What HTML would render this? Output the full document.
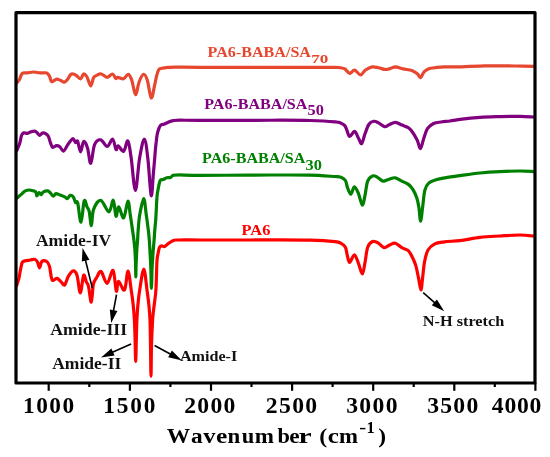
<!DOCTYPE html>
<html><head><meta charset="utf-8"><style>
html,body{margin:0;padding:0;background:#fff;}
body{width:550px;height:457px;overflow:hidden;}
svg{display:block;}
text{font-family:"Liberation Serif","Times New Roman",serif;font-weight:bold;}
</style></head><body>
<svg width="550" height="457" viewBox="0 0 550 457">
<rect width="550" height="457" fill="#fff"/>
<g fill="none" stroke-width="3.2" stroke-linejoin="round" stroke-linecap="round">
<path d="M16.5 83.3C17.0 82.7 18.6 81.1 19.5 79.5C20.4 77.9 20.9 74.6 22.2 73.5C23.5 72.4 25.2 73.2 27.1 72.9C29.0 72.7 31.4 72.0 33.6 72.0C35.8 72.0 38.0 72.8 40.2 72.9C42.4 73.1 45.2 72.4 46.7 72.9C48.2 73.5 48.7 74.8 49.5 76.2C50.3 77.7 50.7 81.0 51.6 81.6C52.5 82.2 54.0 80.4 54.9 80.0C55.8 79.6 56.1 79.1 57.1 79.2C58.1 79.3 59.7 80.0 60.9 80.5C62.1 81.0 63.1 82.4 64.2 82.2C65.3 82.0 66.4 80.8 67.5 79.5C68.6 78.2 69.7 75.4 70.7 74.5C71.7 73.6 72.3 73.8 73.3 74.0C74.3 74.2 75.3 74.8 76.5 75.6C77.7 76.4 79.4 79.2 80.6 78.9C81.8 78.6 82.5 74.4 83.6 74.0C84.6 73.6 85.7 74.7 86.9 76.7C88.1 78.7 89.6 85.8 90.7 86.0C91.8 86.2 92.6 79.5 93.5 77.8C94.4 76.1 94.9 76.2 96.2 75.6C97.5 75.0 99.3 73.7 101.1 74.0C102.9 74.3 105.2 77.3 107.1 77.3C109.0 77.3 111.0 73.8 112.5 74.0C114.0 74.2 114.9 77.9 115.8 78.4C116.7 79.0 116.7 77.2 118.0 77.3C119.3 77.4 121.9 79.3 123.6 78.8C125.3 78.3 126.8 74.1 128.2 74.3C129.6 74.5 130.6 76.8 131.8 80.2C133.0 83.6 134.3 94.3 135.5 94.6C136.7 94.9 137.8 85.4 139.1 82.0C140.4 78.6 142.2 74.6 143.6 74.3C145.0 74.0 146.0 76.3 147.3 80.2C148.6 84.1 150.0 96.9 151.2 97.9C152.4 98.9 153.5 90.0 154.4 86.3C155.3 82.6 155.9 78.6 156.6 75.8C157.3 73.0 157.9 70.8 158.8 69.6C159.7 68.3 160.4 68.7 161.9 68.3C163.4 67.9 165.8 67.6 168.0 67.4C170.2 67.2 169.7 67.1 175.0 67.1C180.3 67.1 187.5 67.3 200.0 67.3C212.5 67.3 233.3 67.3 250.0 67.3C266.7 67.3 285.8 67.4 300.0 67.4C314.2 67.4 328.2 67.2 335.0 67.3C341.8 67.4 338.9 67.5 340.5 67.8C342.1 68.1 343.3 68.0 344.8 68.9C346.3 69.8 348.1 73.1 349.7 73.3C351.3 73.5 352.8 69.9 354.6 70.2C356.4 70.5 358.8 74.9 360.6 74.9C362.4 74.9 363.6 71.3 365.5 70.0C367.4 68.7 369.9 67.3 372.1 66.9C374.3 66.5 376.4 67.4 378.6 67.8C380.8 68.2 383.3 69.4 385.2 69.5C387.1 69.6 388.3 69.0 390.0 68.6C391.7 68.2 393.3 66.9 395.5 66.9C397.7 67.0 400.4 68.3 403.1 68.9C405.8 69.5 409.4 69.7 411.8 70.5C414.2 71.3 415.9 72.6 417.3 73.8C418.8 75.0 419.4 77.9 420.5 77.6C421.6 77.3 422.5 73.7 423.8 72.2C425.1 70.8 426.2 69.7 428.2 68.9C430.2 68.1 433.1 67.9 435.8 67.6C438.5 67.3 440.5 67.0 444.5 66.9C448.5 66.8 455.8 66.9 460.0 66.8C464.2 66.7 465.8 66.4 470.0 66.3C474.2 66.2 480.0 66.0 485.0 65.9C490.0 65.8 495.0 65.9 500.0 65.9C505.0 65.9 509.4 65.9 515.0 66.0C520.6 66.1 530.4 66.2 533.5 66.3" stroke="#e8472f"/>
<path d="M16.5 151.0C17.0 149.8 18.6 146.6 19.5 144.0C20.4 141.4 20.9 137.2 21.6 135.3C22.3 133.5 22.8 133.2 23.8 132.9C24.8 132.6 26.5 133.5 27.6 133.3C28.7 133.2 29.2 132.4 30.4 132.0C31.6 131.6 33.6 131.0 34.7 131.1C35.8 131.2 36.1 131.8 36.9 132.5C37.7 133.2 38.7 135.2 39.6 135.3C40.5 135.4 41.4 133.4 42.4 133.1C43.4 132.8 44.6 133.0 45.6 133.6C46.6 134.2 47.6 134.8 48.4 136.4C49.2 138.0 49.8 141.1 50.5 142.9C51.2 144.7 51.7 146.9 52.7 147.3C53.7 147.8 55.3 145.7 56.5 145.6C57.7 145.5 58.6 145.8 59.8 146.7C61.0 147.6 62.3 151.4 63.6 151.1C64.9 150.8 66.0 147.2 67.5 145.1C69.0 143.0 71.4 139.1 72.7 138.7C74.0 138.3 74.7 142.1 75.5 142.5C76.3 142.9 76.9 139.8 77.7 141.4C78.5 143.0 79.6 151.8 80.6 151.8C81.6 151.8 82.5 142.0 83.7 141.4C84.9 140.8 86.3 144.3 87.5 148.0C88.7 151.7 89.6 163.9 90.8 163.3C92.0 162.8 92.9 148.6 94.6 144.7C96.2 140.8 98.6 139.5 100.7 139.8C102.8 140.1 105.2 146.5 107.2 146.4C109.2 146.3 111.2 138.7 112.7 139.2C114.2 139.7 115.1 148.5 116.0 149.6C116.9 150.7 116.9 145.5 118.2 145.8C119.5 146.1 122.0 152.1 123.6 151.3C125.2 150.5 126.6 139.9 127.9 141.0C129.2 142.1 129.9 149.8 131.2 158.0C132.4 166.2 134.0 190.4 135.4 190.4C136.8 190.4 138.1 166.5 139.6 158.0C141.1 149.5 143.0 138.9 144.4 139.2C145.8 139.5 146.9 150.6 148.0 160.0C149.1 169.4 150.3 193.6 151.2 195.6C152.1 197.6 152.8 179.3 153.5 172.0C154.2 164.7 154.8 157.0 155.2 152.0C155.6 147.0 155.8 145.0 156.2 142.0C156.5 139.0 156.8 136.1 157.3 133.8C157.8 131.5 158.5 129.4 159.1 128.0C159.7 126.5 160.0 125.8 160.9 125.1C161.8 124.4 163.3 124.5 164.5 124.0C165.7 123.5 166.7 122.8 168.2 122.2C169.7 121.6 171.3 120.9 173.3 120.6C175.3 120.3 175.6 120.2 180.0 120.2C184.4 120.2 188.3 120.4 200.0 120.4C211.7 120.4 236.7 120.4 250.0 120.4C263.3 120.4 270.0 120.2 280.0 120.2C290.0 120.2 300.8 120.2 310.0 120.5C319.2 120.8 329.9 121.4 335.0 121.8C340.1 122.2 338.9 122.3 340.5 122.9C342.1 123.5 343.7 124.3 344.8 125.6C345.9 126.9 346.2 128.7 347.0 130.5C347.8 132.3 348.4 136.3 349.7 136.5C351.0 136.7 353.1 131.1 354.6 131.4C356.1 131.7 357.3 136.2 358.5 138.2C359.7 140.2 360.6 144.3 361.7 143.6C362.8 142.9 363.8 137.0 365.0 133.8C366.2 130.6 367.4 126.6 368.8 124.5C370.2 122.4 372.1 121.6 373.7 121.3C375.3 121.0 376.8 122.0 378.6 122.9C380.4 123.8 382.8 126.4 384.6 126.7C386.4 127.0 387.7 125.2 389.5 124.5C391.3 123.8 393.4 122.3 395.5 122.4C397.6 122.5 399.8 124.2 402.0 125.1C404.2 126.0 406.7 126.5 408.5 127.8C410.3 129.1 411.4 130.6 412.9 132.7C414.4 134.8 416.0 137.8 417.3 140.4C418.6 143.0 419.4 148.9 420.5 148.5C421.6 148.1 422.6 141.5 423.8 138.2C425.0 134.8 426.0 130.8 427.6 128.4C429.2 126.0 431.3 124.6 433.6 123.5C435.9 122.4 438.6 122.4 441.3 122.0C444.0 121.6 446.9 121.4 450.0 121.0C453.1 120.6 455.0 120.0 460.0 119.4C465.0 118.8 473.3 117.9 480.0 117.4C486.7 116.9 493.3 116.8 500.0 116.6C506.7 116.4 514.4 116.3 520.0 116.4C525.6 116.5 531.2 116.9 533.5 117.0" stroke="#800080"/>
<path d="M16.5 198.5C17.0 198.1 18.6 196.6 19.5 195.8C20.4 195.0 21.3 194.4 22.2 193.6C23.1 192.8 23.7 191.7 24.9 191.1C26.1 190.5 27.9 190.0 29.3 190.0C30.8 190.0 32.5 190.6 33.6 190.9C34.7 191.2 35.2 191.2 35.8 192.0C36.3 192.8 36.3 195.7 36.9 195.8C37.5 195.9 38.4 192.7 39.1 192.5C39.8 192.3 40.4 194.8 41.1 194.7C41.8 194.6 42.4 192.4 43.5 191.8C44.6 191.2 46.6 190.7 47.8 190.9C49.0 191.1 49.6 192.2 50.5 193.1C51.4 194.0 52.4 196.0 53.3 196.1C54.2 196.2 54.7 193.7 56.0 193.6C57.3 193.5 59.4 194.8 60.9 195.3C62.4 195.9 63.6 196.4 64.7 196.9C65.8 197.4 66.6 198.8 67.5 198.5C68.4 198.2 69.2 195.6 70.2 195.3C71.2 195.1 72.4 195.8 73.3 197.0C74.2 198.2 74.8 201.5 75.5 202.5C76.2 203.5 76.8 199.7 77.7 203.0C78.6 206.3 79.9 222.5 81.0 222.2C82.1 221.8 83.2 203.4 84.2 200.9C85.2 198.4 86.2 205.2 87.0 206.9C87.8 208.6 88.5 208.2 89.2 211.3C89.9 214.4 90.7 225.8 91.4 225.5C92.1 225.2 92.0 213.8 93.5 209.6C95.0 205.4 98.1 199.9 100.7 200.3C103.3 200.7 106.8 211.8 108.9 211.8C111.0 211.8 112.1 199.6 113.3 200.3C114.5 201.0 115.1 215.1 116.0 216.2C116.9 217.3 117.4 206.6 118.7 206.9C120.0 207.2 122.2 218.9 123.7 217.9C125.2 216.9 126.8 201.7 127.9 201.2C129.0 200.7 129.5 210.2 130.3 215.0C131.1 219.8 131.9 225.8 132.5 230.0C133.1 234.2 133.5 236.7 133.9 240.0C134.3 243.3 134.6 246.3 134.9 250.0C135.2 253.7 135.3 257.5 135.5 262.0C135.7 266.5 135.7 276.8 135.8 276.8C135.9 276.8 136.0 266.5 136.2 262.0C136.4 257.5 136.6 253.7 136.8 250.0C137.0 246.3 137.4 243.3 137.6 240.0C137.8 236.7 137.8 234.2 138.2 230.0C138.5 225.8 138.8 220.2 139.7 215.0C140.6 209.8 142.6 198.6 143.7 198.6C144.8 198.6 145.5 209.8 146.3 215.0C147.1 220.2 147.8 225.8 148.3 230.0C148.8 234.2 149.0 235.8 149.3 240.0C149.6 244.2 149.9 250.0 150.2 255.0C150.5 260.0 150.7 264.4 150.9 270.0C151.1 275.6 151.2 288.4 151.4 288.4C151.6 288.4 151.8 275.6 152.0 270.0C152.2 264.4 152.6 260.0 152.9 255.0C153.2 250.0 153.8 244.2 154.1 240.0C154.4 235.8 154.5 233.8 154.8 230.0C155.1 226.2 155.6 222.3 155.9 217.0C156.2 211.7 156.6 202.5 156.9 198.0C157.2 193.5 157.4 192.7 158.0 189.8C158.6 186.9 159.3 182.1 160.2 180.4C161.0 178.7 162.0 180.0 163.1 179.6C164.2 179.2 165.5 178.2 166.7 177.8C167.9 177.5 169.3 177.9 170.4 177.5C171.5 177.1 171.9 175.7 173.3 175.3C174.8 174.9 174.7 174.9 179.1 174.9C183.5 174.9 188.2 175.3 200.0 175.3C211.8 175.3 236.7 175.2 250.0 175.1C263.3 175.0 270.0 175.0 280.0 175.0C290.0 175.0 300.8 174.9 310.0 175.2C319.2 175.4 329.8 176.2 335.0 176.5C340.2 176.8 339.3 176.6 341.0 177.3C342.7 178.0 344.3 178.8 345.4 180.5C346.5 182.2 346.6 185.3 347.5 187.6C348.4 189.9 349.7 194.3 350.8 194.2C351.9 194.1 353.1 186.9 354.4 186.8C355.7 186.7 357.2 190.6 358.5 193.6C359.8 196.6 361.2 204.8 362.3 205.1C363.4 205.4 364.1 199.3 365.0 195.3C365.9 191.3 366.4 184.3 367.7 181.1C369.0 177.9 371.0 176.5 372.6 175.9C374.2 175.3 375.8 176.4 377.5 177.3C379.2 178.2 381.2 180.7 383.0 181.1C384.8 181.5 386.4 180.1 388.5 179.5C390.6 178.9 393.1 177.5 395.3 177.8C397.5 178.1 399.6 180.0 401.8 181.1C404.0 182.2 406.5 183.0 408.4 184.4C410.3 185.8 411.6 187.4 413.0 189.7C414.4 192.0 415.9 195.2 416.9 198.2C417.9 201.1 418.3 203.6 418.9 207.4C419.5 211.2 420.0 221.2 420.6 221.2C421.2 221.2 421.9 212.6 422.6 207.4C423.3 202.2 423.8 194.4 424.8 190.3C425.8 186.2 426.8 184.8 428.7 183.1C430.6 181.3 433.3 180.7 436.0 179.8C438.7 178.9 441.1 178.5 445.1 177.8C449.1 177.1 454.2 176.4 460.0 175.6C465.8 174.8 473.3 173.7 480.0 173.0C486.7 172.3 493.3 171.9 500.0 171.6C506.7 171.3 514.4 171.0 520.0 171.0C525.6 171.0 531.2 171.5 533.5 171.6" stroke="#008000"/>
<path d="M16.5 286.0C16.9 284.7 18.2 281.1 18.9 278.4C19.6 275.7 19.9 272.2 20.5 269.6C21.1 267.0 21.5 263.9 22.2 262.5C22.9 261.1 23.5 261.3 24.9 260.9C26.3 260.5 28.8 260.3 30.4 260.0C32.0 259.7 33.5 259.0 34.7 259.3C35.9 259.6 36.7 260.6 37.5 262.0C38.3 263.4 38.9 268.1 39.6 268.0C40.3 267.9 40.6 262.6 41.8 261.5C43.0 260.4 45.4 260.7 46.7 261.5C48.0 262.3 48.8 263.9 49.5 266.4C50.2 268.8 50.6 273.8 51.1 276.2C51.6 278.6 51.7 280.1 52.7 280.5C53.7 280.9 55.7 278.2 57.1 278.4C58.5 278.6 59.6 280.5 60.9 281.6C62.2 282.7 63.5 285.8 64.7 284.9C65.9 284.0 66.9 278.7 68.3 276.4C69.7 274.1 71.8 271.1 73.2 270.9C74.7 270.7 75.8 271.6 77.0 275.3C78.2 279.0 79.2 292.8 80.3 292.8C81.4 292.8 82.6 277.1 83.6 275.3C84.6 273.5 85.5 280.1 86.3 281.9C87.1 283.7 87.7 282.9 88.5 286.3C89.3 289.7 90.5 302.5 91.3 302.1C92.1 301.7 92.5 288.2 93.4 284.1C94.3 280.0 95.4 279.6 96.7 277.5C98.0 275.4 99.4 270.5 101.1 271.5C102.8 272.5 105.1 283.5 107.1 283.3C109.1 283.1 111.6 269.1 113.1 270.4C114.6 271.7 115.4 289.3 116.3 291.1C117.2 292.9 117.1 281.5 118.5 281.3C119.9 281.1 122.9 291.7 124.5 290.0C126.1 288.3 126.9 271.0 128.0 271.0C129.1 271.0 130.3 284.3 131.2 290.0C132.1 295.7 132.7 300.0 133.2 305.0C133.7 310.0 134.1 314.2 134.4 320.0C134.7 325.8 134.9 333.1 135.1 340.0C135.3 346.9 135.5 361.5 135.7 361.5C135.9 361.5 136.1 346.9 136.3 340.0C136.5 333.1 136.6 325.8 136.9 320.0C137.2 314.2 137.4 310.0 137.9 305.0C138.4 300.0 138.7 296.0 139.7 290.0C140.7 284.0 142.6 269.0 143.8 269.0C145.0 269.0 146.2 284.0 147.0 290.0C147.8 296.0 148.4 300.0 148.9 305.0C149.4 310.0 149.7 313.3 150.0 320.0C150.3 326.7 150.3 335.6 150.5 345.0C150.7 354.4 150.8 376.2 151.0 376.2C151.2 376.2 151.2 354.4 151.5 345.0C151.8 335.6 152.2 326.7 152.6 320.0C153.0 313.3 153.6 310.0 154.2 305.0C154.8 300.0 155.4 297.2 155.9 290.0C156.4 282.8 156.6 268.0 156.9 262.0C157.2 256.0 157.6 256.2 158.0 253.8C158.4 251.4 158.9 248.6 159.5 247.3C160.1 246.0 160.8 245.9 161.6 245.8C162.4 245.7 163.4 246.9 164.5 246.5C165.6 246.1 166.7 244.6 168.2 243.6C169.7 242.6 171.5 241.0 173.3 240.4C175.1 239.8 174.7 240.1 179.1 240.0C183.5 239.9 188.2 240.0 200.0 240.0C211.8 240.0 236.7 240.0 250.0 240.0C263.3 240.0 270.0 239.8 280.0 239.8C290.0 239.8 300.8 239.9 310.0 240.2C319.2 240.5 329.8 241.2 335.0 241.7C340.2 242.2 339.3 242.5 341.0 243.4C342.7 244.3 344.4 245.3 345.4 247.2C346.4 249.1 346.5 252.2 347.2 254.8C347.9 257.4 348.5 262.5 349.7 262.5C350.9 262.5 352.9 254.6 354.4 254.8C355.9 255.0 357.2 260.3 358.5 263.5C359.8 266.7 361.2 274.1 362.3 273.9C363.4 273.7 364.1 266.9 365.0 262.5C365.9 258.1 366.4 250.7 367.7 247.2C369.0 243.7 370.9 242.2 372.6 241.5C374.3 240.8 376.2 241.8 378.1 242.8C380.0 243.8 382.2 247.3 384.1 247.7C386.0 248.1 387.6 245.8 389.5 245.0C391.4 244.2 393.3 242.7 395.4 243.2C397.5 243.7 400.0 246.7 402.2 247.9C404.4 249.1 406.6 249.0 408.3 250.6C410.0 252.2 411.1 254.9 412.4 257.4C413.6 259.9 414.8 262.2 415.8 265.6C416.8 269.0 417.6 273.7 418.5 277.8C419.4 281.9 420.2 290.0 420.9 290.0C421.6 290.0 422.0 282.6 422.6 277.8C423.2 273.1 423.7 266.1 424.6 261.5C425.5 256.9 426.3 252.9 428.0 250.0C429.7 247.1 432.1 245.3 434.8 243.9C437.5 242.5 440.1 242.4 444.3 241.8C448.5 241.2 454.1 241.3 460.0 240.6C465.9 239.9 473.3 238.2 480.0 237.4C486.7 236.6 493.3 236.4 500.0 236.0C506.7 235.6 514.4 235.0 520.0 235.0C525.6 235.0 531.2 235.8 533.5 236.0" stroke="#ff0000"/>
</g>
<g stroke="#000" stroke-width="1.6" fill="#000">
<line x1="92.3" y1="288.1" x2="85.2" y2="259.0"/><polygon points="83.2,250.7 88.2,259.3 82.7,260.6"/>
<line x1="116.5" y1="294.7" x2="113.3" y2="311.9"/><polygon points="111.7,320.3 110.7,310.4 116.2,311.5"/>
<line x1="131.1" y1="343.9" x2="111.3" y2="352.8"/><polygon points="103.6,356.3 111.1,349.8 113.4,354.9"/>
<line x1="154.6" y1="345.5" x2="171.6" y2="354.8"/><polygon points="179.1,358.9 169.4,356.8 172.1,351.9"/>
<line x1="423.2" y1="292.7" x2="435.7" y2="303.7"/><polygon points="442.1,309.3 433.1,305.1 436.8,300.9"/>
</g>
<rect x="16" y="12.6" width="519" height="370.4" fill="none" stroke="#000" stroke-width="3.2" stroke-linejoin="round"/>
<g stroke="#000" stroke-width="2.2">
<line x1="48.7" y1="383" x2="48.7" y2="390.8"/>
<line x1="89.3" y1="383" x2="89.3" y2="387.0"/>
<line x1="129.9" y1="383" x2="129.9" y2="390.8"/>
<line x1="170.4" y1="383" x2="170.4" y2="387.0"/>
<line x1="211.0" y1="383" x2="211.0" y2="390.8"/>
<line x1="251.5" y1="383" x2="251.5" y2="387.0"/>
<line x1="292.1" y1="383" x2="292.1" y2="390.8"/>
<line x1="332.6" y1="383" x2="332.6" y2="387.0"/>
<line x1="373.2" y1="383" x2="373.2" y2="390.8"/>
<line x1="413.7" y1="383" x2="413.7" y2="387.0"/>
<line x1="454.3" y1="383" x2="454.3" y2="390.8"/>
<line x1="494.8" y1="383" x2="494.8" y2="387.0"/>
<line x1="535.4" y1="383" x2="535.4" y2="390.8"/>
</g>
<g class="t">
<text transform="scale(1.0400,1)" x="22.15" y="413.20" font-size="22.42" fill="#000" textLength="49.04" lengthAdjust="spacing">1000</text>
<text transform="scale(1.0400,1)" x="99.36" y="413.20" font-size="22.42" fill="#000" textLength="50.19" lengthAdjust="spacing">1500</text>
<text transform="scale(1.0400,1)" x="177.17" y="413.20" font-size="22.77" fill="#000" textLength="49.23" lengthAdjust="spacing">2000</text>
<text transform="scale(1.0400,1)" x="255.63" y="413.20" font-size="22.77" fill="#000" textLength="49.32" lengthAdjust="spacing">2500</text>
<text transform="scale(1.0400,1)" x="332.84" y="413.20" font-size="22.77" fill="#000" textLength="49.51" lengthAdjust="spacing">3000</text>
<text transform="scale(1.0400,1)" x="410.82" y="413.20" font-size="22.77" fill="#000" textLength="49.03" lengthAdjust="spacing">3500</text>
<text transform="scale(1.0400,1)" x="472.95" y="413.20" font-size="22.77" fill="#000" textLength="47.68" lengthAdjust="spacing">4000</text>
<text x="166.67" y="443.40" font-size="21.30" fill="#000" textLength="23.40" lengthAdjust="spacingAndGlyphs">W</text>
<text x="191.10" y="443.40" font-size="21.30" fill="#000" textLength="11.67" lengthAdjust="spacingAndGlyphs">a</text>
<text x="203.20" y="443.40" font-size="21.30" fill="#000" textLength="12.20" lengthAdjust="spacingAndGlyphs">v</text>
<text x="216.14" y="443.40" font-size="21.30" fill="#000" textLength="11.27" lengthAdjust="spacingAndGlyphs">e</text>
<text x="227.51" y="443.40" font-size="21.30" fill="#000" textLength="12.76" lengthAdjust="spacingAndGlyphs">n</text>
<text x="241.85" y="443.40" font-size="21.30" fill="#000" textLength="12.54" lengthAdjust="spacingAndGlyphs">u</text>
<text x="254.71" y="443.40" font-size="21.30" fill="#000" textLength="19.19" lengthAdjust="spacingAndGlyphs">m</text>
<text x="277.48" y="443.40" font-size="21.30" fill="#000" textLength="12.43" lengthAdjust="spacingAndGlyphs">b</text>
<text x="289.30" y="443.40" font-size="21.30" fill="#000" textLength="10.36" lengthAdjust="spacingAndGlyphs">e</text>
<text x="298.62" y="443.40" font-size="21.30" fill="#000" textLength="13.09" lengthAdjust="spacingAndGlyphs">r</text>
<text x="319.15" y="443.40" font-size="21.30" fill="#000" textLength="7.94" lengthAdjust="spacingAndGlyphs">(</text>
<text x="327.75" y="443.40" font-size="21.30" fill="#000" textLength="11.15" lengthAdjust="spacingAndGlyphs">c</text>
<text x="339.02" y="443.40" font-size="21.30" fill="#000" textLength="18.98" lengthAdjust="spacingAndGlyphs">m</text>
<text x="378.30" y="443.40" font-size="21.30" fill="#000" textLength="7.82" lengthAdjust="spacingAndGlyphs">)</text>
<text x="359.27" y="433.30" font-size="16.80" fill="#000" textLength="6.92" lengthAdjust="spacingAndGlyphs">-</text>
<text x="366.58" y="433.30" font-size="16.80" fill="#000" textLength="8.24" lengthAdjust="spacingAndGlyphs">1</text>
<text x="207.58" y="56.80" font-size="14.24" fill="#e8472f" textLength="103.42" lengthAdjust="spacingAndGlyphs">PA6-BABA/SA</text>
<text x="311.27" y="63.20" font-size="13.38" fill="#e8472f" textLength="17.11" lengthAdjust="spacingAndGlyphs">70</text>
<text x="204.18" y="108.50" font-size="14.39" fill="#800080" textLength="103.22" lengthAdjust="spacingAndGlyphs">PA6-BABA/SA</text>
<text x="307.55" y="115.40" font-size="14.00" fill="#800080" textLength="16.30" lengthAdjust="spacingAndGlyphs">50</text>
<text x="202.08" y="162.70" font-size="14.24" fill="#008000" textLength="103.32" lengthAdjust="spacingAndGlyphs">PA6-BABA/SA</text>
<text x="305.55" y="169.80" font-size="14.00" fill="#008000" textLength="16.30" lengthAdjust="spacingAndGlyphs">30</text>
<text x="241.57" y="234.90" font-size="14.85" fill="#ff0000" textLength="28.80" lengthAdjust="spacingAndGlyphs">PA6</text>
<text x="35.92" y="245.70" font-size="16.09" fill="#111" textLength="75.31" lengthAdjust="spacingAndGlyphs">Amide-IV</text>
<text x="50.32" y="335.30" font-size="15.80" fill="#111" textLength="76.77" lengthAdjust="spacingAndGlyphs">Amide-III</text>
<text x="52.22" y="368.60" font-size="16.38" fill="#111" textLength="69.08" lengthAdjust="spacingAndGlyphs">Amide-II</text>
<text x="179.94" y="361.30" font-size="14.35" fill="#111" textLength="57.33" lengthAdjust="spacingAndGlyphs">Amide-I</text>
<text x="422.88" y="326.00" font-size="14.20" fill="#111" textLength="81.31" lengthAdjust="spacingAndGlyphs">N-H stretch</text>
</g>
</svg>
</body></html>
